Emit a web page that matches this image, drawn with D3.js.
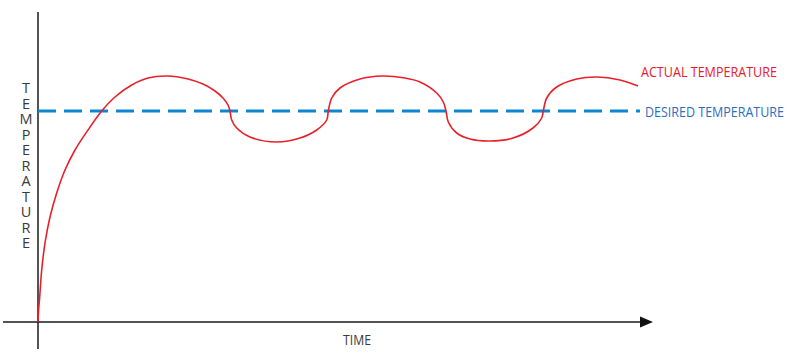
<!DOCTYPE html>
<html>
<head>
<meta charset="utf-8">
<script src="https://cdn.jsdelivr.net/npm/d3@7"></script>
<style>
  html, body { margin: 0; padding: 0; background: #fff; }
  svg { display: block; }
  text { font-family: "Open Sans", "Liberation Sans", sans-serif; }
</style>
</head>
<body>
<svg id="chart"></svg>
<script>
// time / temperature (arbitrary units)
const time = [0, 0.6, 1.7, 3.7, 7, 12, 18.7, 27, 37, 50, 63.7, 77, 93.7, 110, 129, 150, 165, 177, 185, 190, 192,
  193.7, 198.7, 212, 238.7, 262, 278.7, 288.7, 290.3, 293.7, 302, 322, 344, 367, 382, 398.7, 405.3, 408,
  410.3, 418.7, 432, 452, 475, 495, 503.7, 505.3, 508.7, 518.7, 538.7, 558.7, 582, 600];
const actual = [0, 12, 25, 52, 79, 105, 129, 152, 172, 192, 211, 225, 237, 244, 246, 243, 238, 231, 224, 217, 211,
  202, 194, 185, 180, 184, 192, 202, 211, 224, 234, 243, 246, 244, 240, 229, 220, 211,
  200, 189, 183, 181, 184, 194, 204, 211, 224, 235, 243, 245, 242, 236];
const desired = 211;
const timeRange = [0, 602];

const labels = {
  y: 'TEMPERATURE',
  x: 'TIME',
  actual: 'ACTUAL TEMPERATURE',
  desired: 'DESIRED TEMPERATURE'
};

const W = 808, H = 354;
const svg = d3.select('#chart').attr('width', W).attr('height', H);

const x = d3.scaleLinear().domain([0, 600]).range([38, 638]);
const y = d3.scaleLinear().domain([0, 250]).range([322, 72]);

// axes
svg.append('line')
  .attr('x1', x(0)).attr('x2', x(0))
  .attr('y1', 12).attr('y2', 349)
  .attr('stroke', '#1a1a1a').attr('stroke-width', 1.5);

svg.append('line')
  .attr('x1', 3).attr('x2', 642)
  .attr('y1', y(0)).attr('y2', y(0))
  .attr('stroke', '#1a1a1a').attr('stroke-width', 1.5);

svg.append('path')
  .attr('d', `M640,${y(0) - 5.5}L653,${y(0)}L640,${y(0) + 5.5}Z`)
  .attr('fill', '#111');

// desired temperature
svg.append('line')
  .attr('x1', x(timeRange[0])).attr('x2', x(timeRange[1]))
  .attr('y1', y(desired)).attr('y2', y(desired))
  .attr('stroke', '#0b86d0').attr('stroke-width', 3)
  .attr('stroke-dasharray', '18,8');

// actual temperature
const pts = time.map((t, i) => [t, actual[i]]);
const line = d3.line()
  .x(d => x(d[0])).y(d => y(d[1]))
  .curve(d3.curveCatmullRom.alpha(0.5));

svg.append('path')
  .datum(pts)
  .attr('d', line)
  .attr('fill', 'none')
  .attr('stroke', '#e8202a')
  .attr('stroke-width', 1.6);

// labels
svg.append('text')
  .attr('x', 641).attr('y', 77)
  .attr('font-size', 14)
  .attr('textLength', 136).attr('lengthAdjust', 'spacingAndGlyphs')
  .attr('fill', '#e8202a')
  .text(labels.actual);

svg.append('text')
  .attr('x', 645).attr('y', 117)
  .attr('font-size', 14)
  .attr('textLength', 139).attr('lengthAdjust', 'spacingAndGlyphs')
  .attr('fill', '#2a6fc0')
  .text(labels.desired);

svg.append('text')
  .attr('x', 357).attr('y', 345)
  .attr('text-anchor', 'middle')
  .attr('font-size', 14)
  .attr('textLength', 28).attr('lengthAdjust', 'spacingAndGlyphs')
  .attr('fill', '#3a3a3a')
  .text(labels.x);

// stacked upright letters as one vertical text
svg.append('text')
  .attr('x', 26).attr('y', 78)
  .attr('font-size', 14.5)
  .attr('fill', '#3a3a3a')
  .style('writing-mode', 'vertical-rl')
  .style('text-orientation', 'upright')
  .style('letter-spacing', '-3.5px')
  .text(labels.y);
</script>
</body>
</html>
